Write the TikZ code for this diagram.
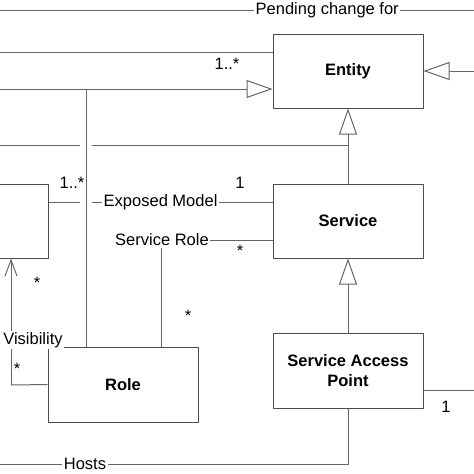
\documentclass[tikz,border=0pt]{standalone}
\usepackage{fontspec}
\setmainfont{Liberation Sans}
\usetikzlibrary{arrows.meta}
\begin{document}
\begin{tikzpicture}[x=1pt, y=-1pt, font=\fontsize{16.5}{20}\selectfont, line join=round, line width=1pt,
	box/.style={draw=black!70, minimum width=150pt, minimum height=74pt, inner sep=0pt, align=center, font=\fontsize{16.5}{20}\selectfont\bfseries},
	lbl/.style={fill=white, inner sep=1.5pt},
	mult/.style={inner sep=0pt},
	gen/.style={-{Triangle[open, length=26pt, width=18pt]}},
	nav/.style={-{Straight Barb[length=16pt, width=12pt]}}]
	\def\xmin{0} \def\xmax{474}
	\def\ymin{0} \def\ymax{474}
	\useasboundingbox (\xmin,\ymin) rectangle (\xmax,\ymax);
	\clip (\xmin,\ymin) rectangle (\xmax,\ymax);
	% classes
	\node[box] (entity) at (348,71) {Entity};
	\node[box] (service) at (348,221) {Service};
	\node[box, minimum height=75pt] (sap) at (348,370.5) {Service Access\\Point};
	\node[box, minimum height=75pt] (role) at (123,384.5) {Role};
	\node[box] (model) at (-27,221) {};
	% free ends outside the frame
	\coordinate (pend) at (-5,10);   \coordinate (pendR) at (480,10);
	\coordinate (ownL) at (-5,52);
	\coordinate (subL) at (-5,89);   \coordinate (subJ) at (86,89);
	\coordinate (genL) at (-5,145);  \coordinate (genJ) at (348,145);
	\coordinate (subR) at (480,71);
	\coordinate (hostL) at (-5,464); \coordinate (hostJ) at (348,464);
	\coordinate (sapR) at (480,390);
	\begin{scope}[draw=black!60]
		% Pending change for
		\draw (pend) -- (pendR) node[lbl, pos=0.685] {Pending change for};
		\draw (ownL) -- (ownL -| entity.west);
		\draw[gen] (subL) -- (subL -| entity.west);
		\draw (subJ) -- (subJ |- role.north);
		\draw (genL) -- (80,145);
		\draw (92,145) -- (genJ);
		\draw[gen] (service.north) -- (entity.south);
		\draw[gen] (subR) -- (entity.east |- subR);
		% Exposed Model
		\draw (model.east |- 0,202) -- (80,202);
		\draw (92,202) -- (service.west |- 0,202) node[lbl, pos=0.38] {Exposed Model};
		% Service Role
		\draw (role.north -| 161,0) -- (161,240) -- (service.west |- 0,240);
		\node[lbl] at (162,240) {Service Role};
		% Visibility
		\draw[nav] (11,385) -- (model.south -| 11,0);
		\draw (11,385) -- (role.west);
		\node[lbl] at (33,340) {Visibility};
		% generalisation and hosting
		\draw[gen] (sap.north) -- (service.south);
		\draw (hostL) -- (hostJ) -- (sap.south);
		\node[lbl] at (85,464) {Hosts};
		\draw (sap.east |- sapR) -- (sapR);
	\end{scope}
	% multiplicities
	\node[mult] at (227,64) {1..*};
	\node[mult] at (72,183) {1..*};
	\node[mult] at (240,183) {1};
	\node[mult] at (240,251) {*};
	\node[mult] at (188,316) {*};
	\node[mult] at (37,283) {*};
	\node[mult] at (17,369) {*};
	\node[mult] at (446,407) {1};
\end{tikzpicture}
\end{document}
